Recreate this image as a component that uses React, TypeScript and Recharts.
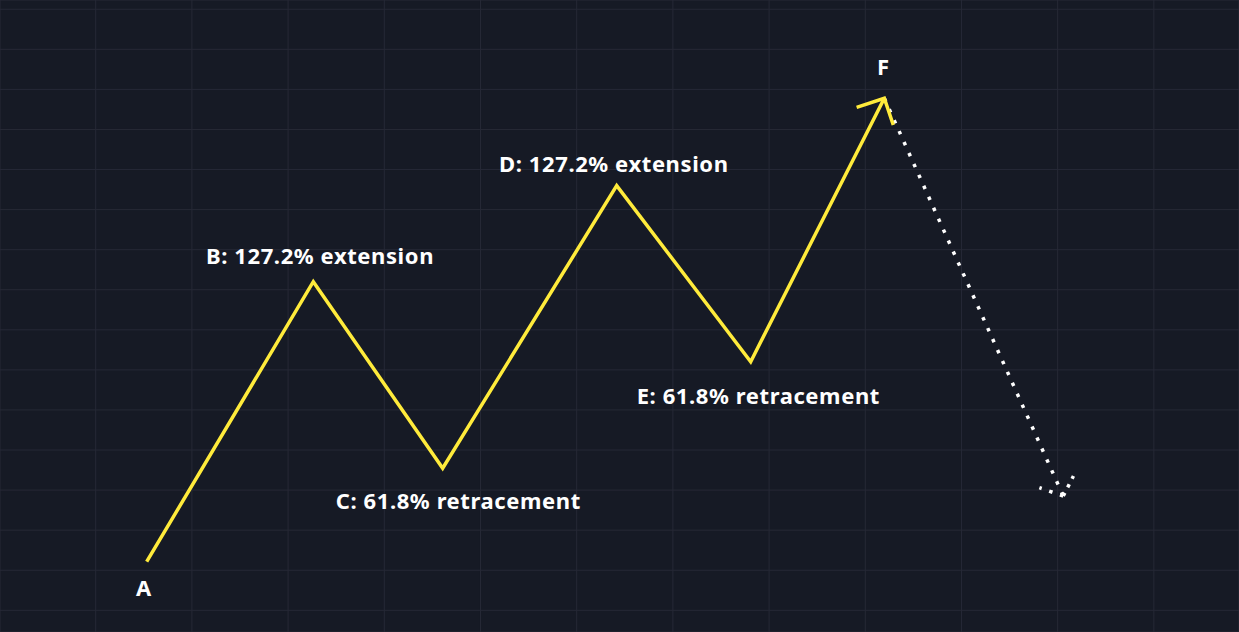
import React from "react";
import { ComposedChart, Line, XAxis, YAxis, CartesianGrid, ReferenceDot } from "recharts";

// Wave pivots (x in bar-grid units, y in price-grid units)
const waveX = [0.53, 2.262, 3.607, 5.416, 6.809, 8.198];
const waveY = [1.213, 8.201, 3.544, 10.597, 6.204, 12.778];

// Arrowhead at F
const headFX = [7.91, 8.198, 8.291];
const headFY = [12.553, 12.778, 12.111];

// Projected dotted move after F
const projX = [8.198, 10.058];
const projY = [12.778, 2.853];
// Arrowhead of the projection: [tip, arm end]
const projLeftX = [10.058, 9.81];
const projLeftY = [2.853, 3.06];
const projRightX = [10.058, 10.164];
const projRightY = [2.853, 3.35];

// Labels
const labelText = ["A", "B: 127.2% extension", "C: 61.8% retracement", "D: 127.2% extension", "E: 61.8% retracement", "F"];
const labelX = [0.502, 2.332, 3.769, 5.386, 6.888, 8.187];
const labelY = [0.544, 8.842, 2.72, 11.133, 5.341, 13.566];

const xTicks = [0, 1, 2, 3, 4, 5, 6, 7, 8, 9, 10, 11];
const yTicks = [0, 1, 2, 3, 4, 5, 6, 7, 8, 9, 10, 11, 12, 13, 14, 15];

const toPts = (xs: number[], ys: number[]) => xs.map((x, i) => ({ x, y: ys[i] }));

const wave = toPts(waveX, waveY);
const headF = toPts(headFX, headFY);
const proj = toPts(projX, projY);
const projLeft = toPts(projLeftX, projLeftY);
const projRight = toPts(projRightX, projRightY);

const YELLOW = "#ffeb3b";
const WHITE = "#ffffff";

export default function App() {
  return (
    <div style={{ position: "absolute", left: 0, top: 0, width: 1239, height: 632, background: "#161a25" }}>
      <ComposedChart width={1239} height={632} margin={{ top: 0, right: 0, bottom: 0, left: 0 }}>
        <CartesianGrid stroke="#262936" strokeWidth={1} horizontal vertical />
        <XAxis type="number" dataKey="x" domain={[-0.9948, 11.885]} ticks={xTicks} hide allowDataOverflow />
        <YAxis type="number" dataKey="y" domain={[-0.5416, 15.231]} ticks={yTicks} hide allowDataOverflow />
        <Line data={proj} dataKey="y" stroke={WHITE} strokeWidth={3.5} strokeDasharray="3.5 8.5" dot={false} activeDot={false} isAnimationActive={false} />
        <Line data={projLeft} dataKey="y" stroke={WHITE} strokeWidth={3.5} strokeDasharray="3.5 7.9" dot={false} activeDot={false} isAnimationActive={false} />
        <Line data={projRight} dataKey="y" stroke={WHITE} strokeWidth={3.5} strokeDasharray="3.5 6.2" dot={false} activeDot={false} isAnimationActive={false} />
        <Line data={wave} dataKey="y" stroke={YELLOW} strokeWidth={3.5} dot={false} activeDot={false} isAnimationActive={false} strokeLinejoin="miter" />
        <Line data={headF} dataKey="y" stroke={YELLOW} strokeWidth={3.5} dot={false} activeDot={false} isAnimationActive={false} strokeLinejoin="miter" />
        {labelText.map((t, i) => (
          <ReferenceDot
            key={t}
            x={labelX[i]}
            y={labelY[i]}
            r={0}
            fill="none"
            stroke="none"
            label={{
              value: t,
              position: "center",
              fill: WHITE,
              fontSize: 22,
              fontWeight: 700,
              fontFamily: "Noto Sans",
              letterSpacing: 0.6,
            }}
          />
        ))}
      </ComposedChart>
    </div>
  );
}
